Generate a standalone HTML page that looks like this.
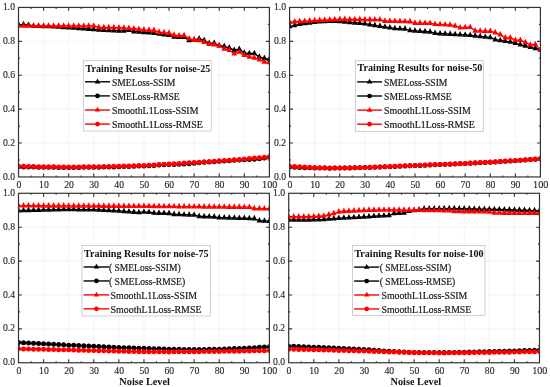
<!DOCTYPE html>
<html><head><meta charset="utf-8"><style>
html,body{margin:0;padding:0;background:#fff;}
svg{display:block;filter:blur(0.3px);}
text{font-family:'Liberation Serif', 'DejaVu Serif', serif;fill:#1e1e1e;}
.tk{font-size:9.7px;fill:#2a2a2a;stroke:#2a2a2a;stroke-width:0.15px;}
.tt{font-size:10px;font-weight:bold;fill:#111;}
.lg{font-size:10px;fill:#1a1a1a;stroke:#1a1a1a;stroke-width:0.2px;}
.xl{font-size:10.8px;font-weight:bold;fill:#111;}
</style></head><body>
<svg width="550" height="387" viewBox="0 0 550 387">
<rect width="550" height="387" fill="#fff"/>
<path d="M43.59 7.45V176.95M68.68 7.45V176.95M93.77 7.45V176.95M118.86 7.45V176.95M143.95 7.45V176.95M169.04 7.45V176.95M194.13 7.45V176.95M219.22 7.45V176.95M244.31 7.45V176.95M18.50 143.05H269.40M18.50 109.15H269.40M18.50 75.25H269.40M18.50 41.35H269.40" stroke="#ededed" stroke-width="0.6" fill="none"/>
<clipPath id="cTL"><rect x="18.5" y="7.45" width="250.90" height="169.50"/></clipPath>
<g clip-path="url(#cTL)">
<path d="M18.50 24.57L23.52 24.57L28.54 24.91L33.55 25.93L38.57 26.09L43.59 26.26L48.61 26.49L53.63 26.72L58.64 26.94L63.66 27.28L68.68 27.62L73.70 27.96L78.72 28.30L83.73 28.64L88.75 29.02L93.77 29.40L98.79 29.78L103.81 30.16L108.82 30.39L113.84 30.62L118.86 30.84L123.88 30.84L128.90 30.16L133.91 31.52L138.93 31.90L143.95 32.28L148.97 32.66L153.99 33.04L159.00 33.78L164.02 34.51L169.04 35.25L174.06 36.94L179.08 37.03L184.09 37.11L189.11 40.33L194.13 39.82L199.15 38.64L204.17 40.33L209.18 43.21L214.20 43.04L219.22 45.76L224.24 46.27L229.26 47.79L234.27 50.16L239.29 49.15L244.31 52.88L249.33 53.38L254.35 53.38L259.36 56.94L264.38 58.30L269.40 59.15" stroke="#000000" stroke-width="1.3" fill="none" stroke-linejoin="round"/>
<path d="M18.50 20.84L21.30 26.44L15.70 26.44ZM23.52 20.84L26.32 26.44L20.72 26.44ZM28.54 21.18L31.34 26.78L25.74 26.78ZM33.55 22.19L36.35 27.79L30.75 27.79ZM38.57 22.36L41.37 27.96L35.77 27.96ZM43.59 22.53L46.39 28.13L40.79 28.13ZM48.61 22.76L51.41 28.36L45.81 28.36ZM53.63 22.98L56.43 28.58L50.83 28.58ZM58.64 23.21L61.44 28.81L55.84 28.81ZM63.66 23.55L66.46 29.15L60.86 29.15ZM68.68 23.89L71.48 29.49L65.88 29.49ZM73.70 24.23L76.50 29.83L70.90 29.83ZM78.72 24.57L81.52 30.17L75.92 30.17ZM83.73 24.90L86.53 30.50L80.93 30.50ZM88.75 25.29L91.55 30.89L85.95 30.89ZM93.77 25.67L96.57 31.27L90.97 31.27ZM98.79 26.05L101.59 31.65L95.99 31.65ZM103.81 26.43L106.61 32.03L101.01 32.03ZM108.82 26.66L111.62 32.26L106.02 32.26ZM113.84 26.88L116.64 32.48L111.04 32.48ZM118.86 27.11L121.66 32.71L116.06 32.71ZM123.88 27.11L126.68 32.71L121.08 32.71ZM128.90 26.43L131.70 32.03L126.10 32.03ZM133.91 27.79L136.71 33.39L131.11 33.39ZM138.93 28.17L141.73 33.77L136.13 33.77ZM143.95 28.55L146.75 34.15L141.15 34.15ZM148.97 28.93L151.77 34.53L146.17 34.53ZM153.99 29.31L156.79 34.91L151.19 34.91ZM159.00 30.05L161.80 35.65L156.20 35.65ZM164.02 30.78L166.82 36.38L161.22 36.38ZM169.04 31.51L171.84 37.11L166.24 37.11ZM174.06 33.21L176.86 38.81L171.26 38.81ZM179.08 33.29L181.88 38.89L176.28 38.89ZM184.09 33.38L186.89 38.98L181.29 38.98ZM189.11 36.60L191.91 42.20L186.31 42.20ZM194.13 36.09L196.93 41.69L191.33 41.69ZM199.15 34.90L201.95 40.50L196.35 40.50ZM204.17 36.60L206.97 42.20L201.37 42.20ZM209.18 39.48L211.98 45.08L206.38 45.08ZM214.20 39.31L217.00 44.91L211.40 44.91ZM219.22 42.02L222.02 47.62L216.42 47.62ZM224.24 42.53L227.04 48.13L221.44 48.13ZM229.26 44.06L232.06 49.66L226.46 49.66ZM234.27 46.43L237.07 52.03L231.47 52.03ZM239.29 45.41L242.09 51.01L236.49 51.01ZM244.31 49.14L247.11 54.74L241.51 54.74ZM249.33 49.65L252.13 55.25L246.53 55.25ZM254.35 49.65L257.15 55.25L251.55 55.25ZM259.36 53.21L262.16 58.81L256.56 58.81ZM264.38 54.57L267.18 60.17L261.58 60.17ZM269.40 55.41L272.20 61.01L266.60 61.01Z" fill="#000000"/>
<path d="M18.50 166.78L23.52 166.88L28.54 166.98L33.55 167.09L38.57 167.19L43.59 167.29L48.61 167.32L53.63 167.36L58.64 167.39L63.66 167.42L68.68 167.46L73.70 167.42L78.72 167.39L83.73 167.36L88.75 167.32L93.77 167.29L98.79 167.19L103.81 167.09L108.82 166.98L113.84 166.88L118.86 166.78L123.88 166.61L128.90 166.44L133.91 166.27L138.93 166.10L143.95 165.93L148.97 165.66L153.99 165.39L159.00 165.12L164.02 164.85L169.04 164.58L174.06 164.41L179.08 164.24L184.09 164.07L189.11 163.73L194.13 163.28L199.15 162.82L204.17 162.37L209.18 162.03L214.20 161.69L219.22 161.36L224.24 161.02L229.26 160.68L234.27 160.34L239.29 160.08L244.31 159.83L249.33 159.58L254.35 159.32L259.36 158.64L264.38 157.97L269.40 157.29" stroke="#000000" stroke-width="1.3" fill="none" stroke-linejoin="round"/>
<circle cx="18.50" cy="166.78" r="2.5" fill="#000000"/>
<circle cx="23.52" cy="166.88" r="2.5" fill="#000000"/>
<circle cx="28.54" cy="166.98" r="2.5" fill="#000000"/>
<circle cx="33.55" cy="167.09" r="2.5" fill="#000000"/>
<circle cx="38.57" cy="167.19" r="2.5" fill="#000000"/>
<circle cx="43.59" cy="167.29" r="2.5" fill="#000000"/>
<circle cx="48.61" cy="167.32" r="2.5" fill="#000000"/>
<circle cx="53.63" cy="167.36" r="2.5" fill="#000000"/>
<circle cx="58.64" cy="167.39" r="2.5" fill="#000000"/>
<circle cx="63.66" cy="167.42" r="2.5" fill="#000000"/>
<circle cx="68.68" cy="167.46" r="2.5" fill="#000000"/>
<circle cx="73.70" cy="167.42" r="2.5" fill="#000000"/>
<circle cx="78.72" cy="167.39" r="2.5" fill="#000000"/>
<circle cx="83.73" cy="167.36" r="2.5" fill="#000000"/>
<circle cx="88.75" cy="167.32" r="2.5" fill="#000000"/>
<circle cx="93.77" cy="167.29" r="2.5" fill="#000000"/>
<circle cx="98.79" cy="167.19" r="2.5" fill="#000000"/>
<circle cx="103.81" cy="167.09" r="2.5" fill="#000000"/>
<circle cx="108.82" cy="166.98" r="2.5" fill="#000000"/>
<circle cx="113.84" cy="166.88" r="2.5" fill="#000000"/>
<circle cx="118.86" cy="166.78" r="2.5" fill="#000000"/>
<circle cx="123.88" cy="166.61" r="2.5" fill="#000000"/>
<circle cx="128.90" cy="166.44" r="2.5" fill="#000000"/>
<circle cx="133.91" cy="166.27" r="2.5" fill="#000000"/>
<circle cx="138.93" cy="166.10" r="2.5" fill="#000000"/>
<circle cx="143.95" cy="165.93" r="2.5" fill="#000000"/>
<circle cx="148.97" cy="165.66" r="2.5" fill="#000000"/>
<circle cx="153.99" cy="165.39" r="2.5" fill="#000000"/>
<circle cx="159.00" cy="165.12" r="2.5" fill="#000000"/>
<circle cx="164.02" cy="164.85" r="2.5" fill="#000000"/>
<circle cx="169.04" cy="164.58" r="2.5" fill="#000000"/>
<circle cx="174.06" cy="164.41" r="2.5" fill="#000000"/>
<circle cx="179.08" cy="164.24" r="2.5" fill="#000000"/>
<circle cx="184.09" cy="164.07" r="2.5" fill="#000000"/>
<circle cx="189.11" cy="163.73" r="2.5" fill="#000000"/>
<circle cx="194.13" cy="163.28" r="2.5" fill="#000000"/>
<circle cx="199.15" cy="162.82" r="2.5" fill="#000000"/>
<circle cx="204.17" cy="162.37" r="2.5" fill="#000000"/>
<circle cx="209.18" cy="162.03" r="2.5" fill="#000000"/>
<circle cx="214.20" cy="161.69" r="2.5" fill="#000000"/>
<circle cx="219.22" cy="161.36" r="2.5" fill="#000000"/>
<circle cx="224.24" cy="161.02" r="2.5" fill="#000000"/>
<circle cx="229.26" cy="160.68" r="2.5" fill="#000000"/>
<circle cx="234.27" cy="160.34" r="2.5" fill="#000000"/>
<circle cx="239.29" cy="160.08" r="2.5" fill="#000000"/>
<circle cx="244.31" cy="159.83" r="2.5" fill="#000000"/>
<circle cx="249.33" cy="159.58" r="2.5" fill="#000000"/>
<circle cx="254.35" cy="159.32" r="2.5" fill="#000000"/>
<circle cx="259.36" cy="158.64" r="2.5" fill="#000000"/>
<circle cx="264.38" cy="157.97" r="2.5" fill="#000000"/>
<circle cx="269.40" cy="157.29" r="2.5" fill="#000000"/>
<path d="M18.50 25.93L23.52 25.93L28.54 25.93L33.55 25.93L38.57 25.93L43.59 25.93L48.61 25.93L53.63 25.93L58.64 25.93L63.66 25.93L68.68 25.93L73.70 25.93L78.72 25.93L83.73 25.93L88.75 25.93L93.77 25.93L98.79 27.28L103.81 27.37L108.82 27.45L113.84 27.54L118.86 27.62L123.88 27.96L128.90 28.30L133.91 28.64L138.93 29.23L143.95 29.82L148.97 30.08L153.99 30.33L159.00 32.03L164.02 32.54L169.04 33.04L174.06 35.08L179.08 35.76L184.09 35.42L189.11 38.64L194.13 39.82L199.15 40.33L204.17 42.03L209.18 44.23L214.20 44.74L219.22 45.76L224.24 48.98L229.26 50.16L234.27 53.72L239.29 51.86L244.31 55.08L249.33 56.94L254.35 57.79L259.36 59.66L264.38 61.86L269.40 62.37" stroke="#ff0000" stroke-width="1.3" fill="none" stroke-linejoin="round"/>
<path d="M18.50 22.19L21.30 27.79L15.70 27.79ZM23.52 22.19L26.32 27.79L20.72 27.79ZM28.54 22.19L31.34 27.79L25.74 27.79ZM33.55 22.19L36.35 27.79L30.75 27.79ZM38.57 22.19L41.37 27.79L35.77 27.79ZM43.59 22.19L46.39 27.79L40.79 27.79ZM48.61 22.19L51.41 27.79L45.81 27.79ZM53.63 22.19L56.43 27.79L50.83 27.79ZM58.64 22.19L61.44 27.79L55.84 27.79ZM63.66 22.19L66.46 27.79L60.86 27.79ZM68.68 22.19L71.48 27.79L65.88 27.79ZM73.70 22.19L76.50 27.79L70.90 27.79ZM78.72 22.19L81.52 27.79L75.92 27.79ZM83.73 22.19L86.53 27.79L80.93 27.79ZM88.75 22.19L91.55 27.79L85.95 27.79ZM93.77 22.19L96.57 27.79L90.97 27.79ZM98.79 23.55L101.59 29.15L95.99 29.15ZM103.81 23.63L106.61 29.23L101.01 29.23ZM108.82 23.72L111.62 29.32L106.02 29.32ZM113.84 23.80L116.64 29.40L111.04 29.40ZM118.86 23.89L121.66 29.49L116.06 29.49ZM123.88 24.23L126.68 29.83L121.08 29.83ZM128.90 24.57L131.70 30.17L126.10 30.17ZM133.91 24.90L136.71 30.50L131.11 30.50ZM138.93 25.50L141.73 31.10L136.13 31.10ZM143.95 26.09L146.75 31.69L141.15 31.69ZM148.97 26.34L151.77 31.94L146.17 31.94ZM153.99 26.60L156.79 32.20L151.19 32.20ZM159.00 28.29L161.80 33.89L156.20 33.89ZM164.02 28.80L166.82 34.40L161.22 34.40ZM169.04 29.31L171.84 34.91L166.24 34.91ZM174.06 31.35L176.86 36.95L171.26 36.95ZM179.08 32.02L181.88 37.62L176.28 37.62ZM184.09 31.68L186.89 37.28L181.29 37.28ZM189.11 34.90L191.91 40.50L186.31 40.50ZM194.13 36.09L196.93 41.69L191.33 41.69ZM199.15 36.60L201.95 42.20L196.35 42.20ZM204.17 38.29L206.97 43.89L201.37 43.89ZM209.18 40.50L211.98 46.10L206.38 46.10ZM214.20 41.01L217.00 46.61L211.40 46.61ZM219.22 42.02L222.02 47.62L216.42 47.62ZM224.24 45.24L227.04 50.84L221.44 50.84ZM229.26 46.43L232.06 52.03L226.46 52.03ZM234.27 49.99L237.07 55.59L231.47 55.59ZM239.29 48.13L242.09 53.73L236.49 53.73ZM244.31 51.35L247.11 56.95L241.51 56.95ZM249.33 53.21L252.13 58.81L246.53 58.81ZM254.35 54.06L257.15 59.66L251.55 59.66ZM259.36 55.92L262.16 61.52L256.56 61.52ZM264.38 58.13L267.18 63.73L261.58 63.73ZM269.40 58.63L272.20 64.23L266.60 64.23Z" fill="#ff0000"/>
<path d="M18.50 166.27L23.52 166.37L28.54 166.47L33.55 166.58L38.57 166.68L43.59 166.78L48.61 166.81L53.63 166.85L58.64 166.88L63.66 166.92L68.68 166.95L73.70 166.92L78.72 166.88L83.73 166.85L88.75 166.81L93.77 166.78L98.79 166.68L103.81 166.58L108.82 166.47L113.84 166.37L118.86 166.27L123.88 166.10L128.90 165.93L133.91 165.76L138.93 165.59L143.95 165.42L148.97 165.15L153.99 164.88L159.00 164.61L164.02 164.34L169.04 164.07L174.06 163.75L179.08 163.44L184.09 163.12L189.11 162.81L194.13 162.49L199.15 162.18L204.17 161.86L209.18 161.53L214.20 161.19L219.22 160.85L224.24 160.51L229.26 160.17L234.27 159.83L239.29 159.39L244.31 158.96L249.33 158.52L254.35 158.09L259.36 157.65L264.38 157.22L269.40 156.78" stroke="#ff0000" stroke-width="1.3" fill="none" stroke-linejoin="round"/>
<circle cx="18.50" cy="166.27" r="2.5" fill="#ff0000"/>
<circle cx="23.52" cy="166.37" r="2.5" fill="#ff0000"/>
<circle cx="28.54" cy="166.47" r="2.5" fill="#ff0000"/>
<circle cx="33.55" cy="166.58" r="2.5" fill="#ff0000"/>
<circle cx="38.57" cy="166.68" r="2.5" fill="#ff0000"/>
<circle cx="43.59" cy="166.78" r="2.5" fill="#ff0000"/>
<circle cx="48.61" cy="166.81" r="2.5" fill="#ff0000"/>
<circle cx="53.63" cy="166.85" r="2.5" fill="#ff0000"/>
<circle cx="58.64" cy="166.88" r="2.5" fill="#ff0000"/>
<circle cx="63.66" cy="166.92" r="2.5" fill="#ff0000"/>
<circle cx="68.68" cy="166.95" r="2.5" fill="#ff0000"/>
<circle cx="73.70" cy="166.92" r="2.5" fill="#ff0000"/>
<circle cx="78.72" cy="166.88" r="2.5" fill="#ff0000"/>
<circle cx="83.73" cy="166.85" r="2.5" fill="#ff0000"/>
<circle cx="88.75" cy="166.81" r="2.5" fill="#ff0000"/>
<circle cx="93.77" cy="166.78" r="2.5" fill="#ff0000"/>
<circle cx="98.79" cy="166.68" r="2.5" fill="#ff0000"/>
<circle cx="103.81" cy="166.58" r="2.5" fill="#ff0000"/>
<circle cx="108.82" cy="166.47" r="2.5" fill="#ff0000"/>
<circle cx="113.84" cy="166.37" r="2.5" fill="#ff0000"/>
<circle cx="118.86" cy="166.27" r="2.5" fill="#ff0000"/>
<circle cx="123.88" cy="166.10" r="2.5" fill="#ff0000"/>
<circle cx="128.90" cy="165.93" r="2.5" fill="#ff0000"/>
<circle cx="133.91" cy="165.76" r="2.5" fill="#ff0000"/>
<circle cx="138.93" cy="165.59" r="2.5" fill="#ff0000"/>
<circle cx="143.95" cy="165.42" r="2.5" fill="#ff0000"/>
<circle cx="148.97" cy="165.15" r="2.5" fill="#ff0000"/>
<circle cx="153.99" cy="164.88" r="2.5" fill="#ff0000"/>
<circle cx="159.00" cy="164.61" r="2.5" fill="#ff0000"/>
<circle cx="164.02" cy="164.34" r="2.5" fill="#ff0000"/>
<circle cx="169.04" cy="164.07" r="2.5" fill="#ff0000"/>
<circle cx="174.06" cy="163.75" r="2.5" fill="#ff0000"/>
<circle cx="179.08" cy="163.44" r="2.5" fill="#ff0000"/>
<circle cx="184.09" cy="163.12" r="2.5" fill="#ff0000"/>
<circle cx="189.11" cy="162.81" r="2.5" fill="#ff0000"/>
<circle cx="194.13" cy="162.49" r="2.5" fill="#ff0000"/>
<circle cx="199.15" cy="162.18" r="2.5" fill="#ff0000"/>
<circle cx="204.17" cy="161.86" r="2.5" fill="#ff0000"/>
<circle cx="209.18" cy="161.53" r="2.5" fill="#ff0000"/>
<circle cx="214.20" cy="161.19" r="2.5" fill="#ff0000"/>
<circle cx="219.22" cy="160.85" r="2.5" fill="#ff0000"/>
<circle cx="224.24" cy="160.51" r="2.5" fill="#ff0000"/>
<circle cx="229.26" cy="160.17" r="2.5" fill="#ff0000"/>
<circle cx="234.27" cy="159.83" r="2.5" fill="#ff0000"/>
<circle cx="239.29" cy="159.39" r="2.5" fill="#ff0000"/>
<circle cx="244.31" cy="158.96" r="2.5" fill="#ff0000"/>
<circle cx="249.33" cy="158.52" r="2.5" fill="#ff0000"/>
<circle cx="254.35" cy="158.09" r="2.5" fill="#ff0000"/>
<circle cx="259.36" cy="157.65" r="2.5" fill="#ff0000"/>
<circle cx="264.38" cy="157.22" r="2.5" fill="#ff0000"/>
<circle cx="269.40" cy="156.78" r="2.5" fill="#ff0000"/>
</g>
<rect x="18.5" y="7.45" width="250.90" height="169.50" fill="none" stroke="#333333" stroke-width="1.2"/>
<path d="M31.05 176.95v-1.5M31.05 7.45v1.5M43.59 176.95v-3.4M43.59 7.45v3.4M56.13 176.95v-1.5M56.13 7.45v1.5M68.68 176.95v-3.4M68.68 7.45v3.4M81.22 176.95v-1.5M81.22 7.45v1.5M93.77 176.95v-3.4M93.77 7.45v3.4M106.31 176.95v-1.5M106.31 7.45v1.5M118.86 176.95v-3.4M118.86 7.45v3.4M131.40 176.95v-1.5M131.40 7.45v1.5M143.95 176.95v-3.4M143.95 7.45v3.4M156.49 176.95v-1.5M156.49 7.45v1.5M169.04 176.95v-3.4M169.04 7.45v3.4M181.58 176.95v-1.5M181.58 7.45v1.5M194.13 176.95v-3.4M194.13 7.45v3.4M206.68 176.95v-1.5M206.68 7.45v1.5M219.22 176.95v-3.4M219.22 7.45v3.4M231.76 176.95v-1.5M231.76 7.45v1.5M244.31 176.95v-3.4M244.31 7.45v3.4M256.85 176.95v-1.5M256.85 7.45v1.5M18.50 160.00h1.5M269.40 160.00h-1.5M18.50 143.05h3.4M269.40 143.05h-3.4M18.50 126.10h1.5M269.40 126.10h-1.5M18.50 109.15h3.4M269.40 109.15h-3.4M18.50 92.20h1.5M269.40 92.20h-1.5M18.50 75.25h3.4M269.40 75.25h-3.4M18.50 58.30h1.5M269.40 58.30h-1.5M18.50 41.35h3.4M269.40 41.35h-3.4M18.50 24.40h1.5M269.40 24.40h-1.5" stroke="#333333" stroke-width="1.1" fill="none"/>
<text x="18.80" y="187.95" text-anchor="middle" class="tk">0</text>
<text x="43.89" y="187.95" text-anchor="middle" class="tk">10</text>
<text x="68.98" y="187.95" text-anchor="middle" class="tk">20</text>
<text x="94.07" y="187.95" text-anchor="middle" class="tk">30</text>
<text x="119.16" y="187.95" text-anchor="middle" class="tk">40</text>
<text x="144.25" y="187.95" text-anchor="middle" class="tk">50</text>
<text x="169.34" y="187.95" text-anchor="middle" class="tk">60</text>
<text x="194.43" y="187.95" text-anchor="middle" class="tk">70</text>
<text x="219.52" y="187.95" text-anchor="middle" class="tk">80</text>
<text x="244.61" y="187.95" text-anchor="middle" class="tk">90</text>
<text x="269.70" y="187.95" text-anchor="middle" class="tk" textLength="15.2" lengthAdjust="spacingAndGlyphs">100</text>
<text x="15.00" y="179.55" text-anchor="end" class="tk">0.0</text>
<text x="15.00" y="145.65" text-anchor="end" class="tk">0.2</text>
<text x="15.00" y="111.75" text-anchor="end" class="tk">0.4</text>
<text x="15.00" y="77.85" text-anchor="end" class="tk">0.6</text>
<text x="15.00" y="43.95" text-anchor="end" class="tk">0.8</text>
<text x="15.00" y="10.05" text-anchor="end" class="tk">1.0</text>
<rect x="83.45" y="60.5" width="127.75" height="70.5" fill="#fff" stroke="#c4c4c4" stroke-width="0.8"/>
<text x="85.45" y="71.50" class="tt" textLength="124.9" lengthAdjust="spacingAndGlyphs">Training Results for noise-25</text>
<path d="M85.00 81.80H110.00" stroke="#000000" stroke-width="1.4"/>
<path d="M97.50 78.60L100.30 83.40L94.70 83.40Z" fill="#000000"/>
<text x="112.00" y="86.00" class="lg" textLength="63.4" lengthAdjust="spacingAndGlyphs">SMELoss-SSIM</text>
<path d="M85.00 95.90H110.00" stroke="#000000" stroke-width="1.4"/>
<circle cx="97.50" cy="95.90" r="2.35" fill="#000000"/>
<text x="112.00" y="100.10" class="lg" textLength="67.7" lengthAdjust="spacingAndGlyphs">SMELoss-RMSE</text>
<path d="M85.00 110.00H110.00" stroke="#ff0000" stroke-width="1.4"/>
<path d="M97.50 106.80L100.30 111.60L94.70 111.60Z" fill="#ff0000"/>
<text x="112.00" y="114.20" class="lg" textLength="86.4" lengthAdjust="spacingAndGlyphs">SmoothL1Loss-SSIM</text>
<path d="M85.00 124.10H110.00" stroke="#ff0000" stroke-width="1.4"/>
<circle cx="97.50" cy="124.10" r="2.35" fill="#ff0000"/>
<text x="112.00" y="128.30" class="lg" textLength="90.7" lengthAdjust="spacingAndGlyphs">SmoothL1Loss-RMSE</text>
<path d="M314.68 7.45V176.95M339.76 7.45V176.95M364.84 7.45V176.95M389.92 7.45V176.95M415.00 7.45V176.95M440.08 7.45V176.95M465.16 7.45V176.95M490.24 7.45V176.95M515.32 7.45V176.95M289.60 143.05H540.40M289.60 109.15H540.40M289.60 75.25H540.40M289.60 41.35H540.40" stroke="#ededed" stroke-width="0.6" fill="none"/>
<clipPath id="cTR"><rect x="289.6" y="7.45" width="250.80" height="169.50"/></clipPath>
<g clip-path="url(#cTR)">
<path d="M289.60 26.43L294.62 25.33L299.63 24.23L304.65 23.50L309.66 22.76L314.68 22.03L319.70 21.69L324.71 21.35L329.73 21.01L334.74 21.18L339.76 21.35L344.78 21.82L349.79 22.30L354.81 22.77L359.82 23.25L364.84 23.72L369.86 24.51L374.87 25.30L379.89 26.09L384.90 26.89L389.92 27.68L394.94 28.47L399.95 28.64L404.97 28.81L409.98 30.50L415.00 30.84L420.02 31.18L425.03 31.52L430.05 31.86L435.06 33.21L440.08 33.51L445.10 33.81L450.11 34.10L455.13 34.40L460.14 34.68L465.16 34.97L470.18 35.25L475.19 35.80L480.21 36.35L485.22 36.90L490.24 37.45L495.26 39.65L500.27 40.39L505.29 41.12L510.30 41.86L515.32 43.21L520.34 44.51L525.35 45.81L530.37 47.11L535.38 48.30L540.40 49.49" stroke="#000000" stroke-width="1.3" fill="none" stroke-linejoin="round"/>
<path d="M289.60 22.70L292.40 28.30L286.80 28.30ZM294.62 21.60L297.42 27.20L291.82 27.20ZM299.63 20.50L302.43 26.10L296.83 26.10ZM304.65 19.76L307.45 25.36L301.85 25.36ZM309.66 19.03L312.46 24.63L306.86 24.63ZM314.68 18.29L317.48 23.89L311.88 23.89ZM319.70 17.95L322.50 23.55L316.90 23.55ZM324.71 17.62L327.51 23.22L321.91 23.22ZM329.73 17.28L332.53 22.88L326.93 22.88ZM334.74 17.45L337.54 23.05L331.94 23.05ZM339.76 17.62L342.56 23.22L336.96 23.22ZM344.78 18.09L347.58 23.69L341.98 23.69ZM349.79 18.56L352.59 24.16L346.99 24.16ZM354.81 19.04L357.61 24.64L352.01 24.64ZM359.82 19.51L362.62 25.11L357.02 25.11ZM364.84 19.99L367.64 25.59L362.04 25.59ZM369.86 20.78L372.66 26.38L367.06 26.38ZM374.87 21.57L377.67 27.17L372.07 27.17ZM379.89 22.36L382.69 27.96L377.09 27.96ZM384.90 23.15L387.70 28.75L382.10 28.75ZM389.92 23.94L392.72 29.54L387.12 29.54ZM394.94 24.73L397.74 30.33L392.14 30.33ZM399.95 24.90L402.75 30.50L397.15 30.50ZM404.97 25.07L407.77 30.67L402.17 30.67ZM409.98 26.77L412.78 32.37L407.18 32.37ZM415.00 27.11L417.80 32.71L412.20 32.71ZM420.02 27.45L422.82 33.05L417.22 33.05ZM425.03 27.79L427.83 33.39L422.23 33.39ZM430.05 28.12L432.85 33.72L427.25 33.72ZM435.06 29.48L437.86 35.08L432.26 35.08ZM440.08 29.78L442.88 35.38L437.28 35.38ZM445.10 30.07L447.90 35.67L442.30 35.67ZM450.11 30.37L452.91 35.97L447.31 35.97ZM455.13 30.67L457.93 36.27L452.33 36.27ZM460.14 30.95L462.94 36.55L457.34 36.55ZM465.16 31.23L467.96 36.83L462.36 36.83ZM470.18 31.51L472.98 37.11L467.38 37.11ZM475.19 32.07L477.99 37.67L472.39 37.67ZM480.21 32.62L483.01 38.22L477.41 38.22ZM485.22 33.17L488.02 38.77L482.42 38.77ZM490.24 33.72L493.04 39.32L487.44 39.32ZM495.26 35.92L498.06 41.52L492.46 41.52ZM500.27 36.66L503.07 42.26L497.47 42.26ZM505.29 37.39L508.09 42.99L502.49 42.99ZM510.30 38.13L513.10 43.73L507.50 43.73ZM515.32 39.48L518.12 45.08L512.52 45.08ZM520.34 40.78L523.14 46.38L517.54 46.38ZM525.35 42.08L528.15 47.68L522.55 47.68ZM530.37 43.38L533.17 48.98L527.57 48.98ZM535.38 44.57L538.18 50.17L532.58 50.17ZM540.40 45.75L543.20 51.35L537.60 51.35Z" fill="#000000"/>
<path d="M289.60 167.12L294.62 167.29L299.63 167.46L304.65 167.63L309.66 167.80L314.68 167.88L319.70 167.97L324.71 168.05L329.73 168.14L334.74 168.09L339.76 168.05L344.78 168.01L349.79 167.97L354.81 167.83L359.82 167.70L364.84 167.56L369.86 167.42L374.87 167.29L379.89 167.08L384.90 166.86L389.92 166.65L394.94 166.44L399.95 166.23L404.97 166.02L409.98 165.81L415.00 165.59L420.02 165.39L425.03 165.19L430.05 164.98L435.06 164.78L440.08 164.58L445.10 164.37L450.11 164.17L455.13 163.97L460.14 163.76L465.16 163.56L470.18 163.29L475.19 163.02L480.21 162.75L485.22 162.47L490.24 162.20L495.26 161.90L500.27 161.59L505.29 161.29L510.30 160.98L515.32 160.68L520.34 160.31L525.35 159.93L530.37 159.56L535.38 159.19L540.40 158.81" stroke="#000000" stroke-width="1.3" fill="none" stroke-linejoin="round"/>
<circle cx="289.60" cy="167.12" r="2.5" fill="#000000"/>
<circle cx="294.62" cy="167.29" r="2.5" fill="#000000"/>
<circle cx="299.63" cy="167.46" r="2.5" fill="#000000"/>
<circle cx="304.65" cy="167.63" r="2.5" fill="#000000"/>
<circle cx="309.66" cy="167.80" r="2.5" fill="#000000"/>
<circle cx="314.68" cy="167.88" r="2.5" fill="#000000"/>
<circle cx="319.70" cy="167.97" r="2.5" fill="#000000"/>
<circle cx="324.71" cy="168.05" r="2.5" fill="#000000"/>
<circle cx="329.73" cy="168.14" r="2.5" fill="#000000"/>
<circle cx="334.74" cy="168.09" r="2.5" fill="#000000"/>
<circle cx="339.76" cy="168.05" r="2.5" fill="#000000"/>
<circle cx="344.78" cy="168.01" r="2.5" fill="#000000"/>
<circle cx="349.79" cy="167.97" r="2.5" fill="#000000"/>
<circle cx="354.81" cy="167.83" r="2.5" fill="#000000"/>
<circle cx="359.82" cy="167.70" r="2.5" fill="#000000"/>
<circle cx="364.84" cy="167.56" r="2.5" fill="#000000"/>
<circle cx="369.86" cy="167.42" r="2.5" fill="#000000"/>
<circle cx="374.87" cy="167.29" r="2.5" fill="#000000"/>
<circle cx="379.89" cy="167.08" r="2.5" fill="#000000"/>
<circle cx="384.90" cy="166.86" r="2.5" fill="#000000"/>
<circle cx="389.92" cy="166.65" r="2.5" fill="#000000"/>
<circle cx="394.94" cy="166.44" r="2.5" fill="#000000"/>
<circle cx="399.95" cy="166.23" r="2.5" fill="#000000"/>
<circle cx="404.97" cy="166.02" r="2.5" fill="#000000"/>
<circle cx="409.98" cy="165.81" r="2.5" fill="#000000"/>
<circle cx="415.00" cy="165.59" r="2.5" fill="#000000"/>
<circle cx="420.02" cy="165.39" r="2.5" fill="#000000"/>
<circle cx="425.03" cy="165.19" r="2.5" fill="#000000"/>
<circle cx="430.05" cy="164.98" r="2.5" fill="#000000"/>
<circle cx="435.06" cy="164.78" r="2.5" fill="#000000"/>
<circle cx="440.08" cy="164.58" r="2.5" fill="#000000"/>
<circle cx="445.10" cy="164.37" r="2.5" fill="#000000"/>
<circle cx="450.11" cy="164.17" r="2.5" fill="#000000"/>
<circle cx="455.13" cy="163.97" r="2.5" fill="#000000"/>
<circle cx="460.14" cy="163.76" r="2.5" fill="#000000"/>
<circle cx="465.16" cy="163.56" r="2.5" fill="#000000"/>
<circle cx="470.18" cy="163.29" r="2.5" fill="#000000"/>
<circle cx="475.19" cy="163.02" r="2.5" fill="#000000"/>
<circle cx="480.21" cy="162.75" r="2.5" fill="#000000"/>
<circle cx="485.22" cy="162.47" r="2.5" fill="#000000"/>
<circle cx="490.24" cy="162.20" r="2.5" fill="#000000"/>
<circle cx="495.26" cy="161.90" r="2.5" fill="#000000"/>
<circle cx="500.27" cy="161.59" r="2.5" fill="#000000"/>
<circle cx="505.29" cy="161.29" r="2.5" fill="#000000"/>
<circle cx="510.30" cy="160.98" r="2.5" fill="#000000"/>
<circle cx="515.32" cy="160.68" r="2.5" fill="#000000"/>
<circle cx="520.34" cy="160.31" r="2.5" fill="#000000"/>
<circle cx="525.35" cy="159.93" r="2.5" fill="#000000"/>
<circle cx="530.37" cy="159.56" r="2.5" fill="#000000"/>
<circle cx="535.38" cy="159.19" r="2.5" fill="#000000"/>
<circle cx="540.40" cy="158.81" r="2.5" fill="#000000"/>
<path d="M289.60 22.03L294.62 21.72L299.63 21.42L304.65 21.11L309.66 20.81L314.68 20.50L319.70 20.26L324.71 20.03L329.73 19.79L334.74 19.55L339.76 19.31L344.78 19.36L349.79 19.40L354.81 19.44L359.82 19.48L364.84 19.53L369.86 19.57L374.87 19.61L379.89 19.65L384.90 21.01L389.92 21.11L394.94 21.21L399.95 21.32L404.97 21.42L409.98 21.52L415.00 23.04L420.02 23.10L425.03 23.16L430.05 23.21L435.06 24.23L440.08 24.46L445.10 24.68L450.11 24.91L455.13 25.93L460.14 27.62L465.16 27.37L470.18 27.11L475.19 30.84L480.21 30.95L485.22 31.07L490.24 31.18L495.26 32.54L500.27 34.57L505.29 37.62L510.30 37.62L515.32 40.16L520.34 40.16L525.35 42.37L530.37 44.91L535.38 44.40L540.40 50.16" stroke="#ff0000" stroke-width="1.3" fill="none" stroke-linejoin="round"/>
<path d="M289.60 18.29L292.40 23.89L286.80 23.89ZM294.62 17.99L297.42 23.59L291.82 23.59ZM299.63 17.68L302.43 23.28L296.83 23.28ZM304.65 17.38L307.45 22.98L301.85 22.98ZM309.66 17.07L312.46 22.67L306.86 22.67ZM314.68 16.77L317.48 22.37L311.88 22.37ZM319.70 16.53L322.50 22.13L316.90 22.13ZM324.71 16.29L327.51 21.89L321.91 21.89ZM329.73 16.06L332.53 21.66L326.93 21.66ZM334.74 15.82L337.54 21.42L331.94 21.42ZM339.76 15.58L342.56 21.18L336.96 21.18ZM344.78 15.62L347.58 21.22L341.98 21.22ZM349.79 15.67L352.59 21.27L346.99 21.27ZM354.81 15.71L357.61 21.31L352.01 21.31ZM359.82 15.75L362.62 21.35L357.02 21.35ZM364.84 15.79L367.64 21.39L362.04 21.39ZM369.86 15.84L372.66 21.44L367.06 21.44ZM374.87 15.88L377.67 21.48L372.07 21.48ZM379.89 15.92L382.69 21.52L377.09 21.52ZM384.90 17.28L387.70 22.88L382.10 22.88ZM389.92 17.38L392.72 22.98L387.12 22.98ZM394.94 17.48L397.74 23.08L392.14 23.08ZM399.95 17.58L402.75 23.18L397.15 23.18ZM404.97 17.68L407.77 23.28L402.17 23.28ZM409.98 17.79L412.78 23.39L407.18 23.39ZM415.00 19.31L417.80 24.91L412.20 24.91ZM420.02 19.37L422.82 24.97L417.22 24.97ZM425.03 19.42L427.83 25.02L422.23 25.02ZM430.05 19.48L432.85 25.08L427.25 25.08ZM435.06 20.50L437.86 26.10L432.26 26.10ZM440.08 20.72L442.88 26.32L437.28 26.32ZM445.10 20.95L447.90 26.55L442.30 26.55ZM450.11 21.18L452.91 26.78L447.31 26.78ZM455.13 22.19L457.93 27.79L452.33 27.79ZM460.14 23.89L462.94 29.49L457.34 29.49ZM465.16 23.63L467.96 29.23L462.36 29.23ZM470.18 23.38L472.98 28.98L467.38 28.98ZM475.19 27.11L477.99 32.71L472.39 32.71ZM480.21 27.22L483.01 32.82L477.41 32.82ZM485.22 27.33L488.02 32.93L482.42 32.93ZM490.24 27.45L493.04 33.05L487.44 33.05ZM495.26 28.80L498.06 34.40L492.46 34.40ZM500.27 30.84L503.07 36.44L497.47 36.44ZM505.29 33.89L508.09 39.49L502.49 39.49ZM510.30 33.89L513.10 39.49L507.50 39.49ZM515.32 36.43L518.12 42.03L512.52 42.03ZM520.34 36.43L523.14 42.03L517.54 42.03ZM525.35 38.63L528.15 44.23L522.55 44.23ZM530.37 41.18L533.17 46.78L527.57 46.78ZM535.38 40.67L538.18 46.27L532.58 46.27ZM540.40 46.43L543.20 52.03L537.60 52.03Z" fill="#ff0000"/>
<path d="M289.60 166.27L294.62 166.53L299.63 166.78L304.65 167.03L309.66 167.29L314.68 167.46L319.70 167.63L324.71 167.80L329.73 167.97L334.74 167.92L339.76 167.88L344.78 167.84L349.79 167.80L354.81 167.66L359.82 167.53L364.84 167.39L369.86 167.25L374.87 167.12L379.89 166.91L384.90 166.70L389.92 166.48L394.94 166.27L399.95 166.06L404.97 165.85L409.98 165.64L415.00 165.42L420.02 165.22L425.03 165.02L430.05 164.81L435.06 164.61L440.08 164.41L445.10 164.20L450.11 164.00L455.13 163.80L460.14 163.59L465.16 163.39L470.18 163.12L475.19 162.85L480.21 162.58L485.22 162.31L490.24 162.03L495.26 161.73L500.27 161.42L505.29 161.12L510.30 160.81L515.32 160.51L520.34 160.14L525.35 159.76L530.37 159.39L535.38 159.02L540.40 158.64" stroke="#ff0000" stroke-width="1.3" fill="none" stroke-linejoin="round"/>
<circle cx="289.60" cy="166.27" r="2.5" fill="#ff0000"/>
<circle cx="294.62" cy="166.53" r="2.5" fill="#ff0000"/>
<circle cx="299.63" cy="166.78" r="2.5" fill="#ff0000"/>
<circle cx="304.65" cy="167.03" r="2.5" fill="#ff0000"/>
<circle cx="309.66" cy="167.29" r="2.5" fill="#ff0000"/>
<circle cx="314.68" cy="167.46" r="2.5" fill="#ff0000"/>
<circle cx="319.70" cy="167.63" r="2.5" fill="#ff0000"/>
<circle cx="324.71" cy="167.80" r="2.5" fill="#ff0000"/>
<circle cx="329.73" cy="167.97" r="2.5" fill="#ff0000"/>
<circle cx="334.74" cy="167.92" r="2.5" fill="#ff0000"/>
<circle cx="339.76" cy="167.88" r="2.5" fill="#ff0000"/>
<circle cx="344.78" cy="167.84" r="2.5" fill="#ff0000"/>
<circle cx="349.79" cy="167.80" r="2.5" fill="#ff0000"/>
<circle cx="354.81" cy="167.66" r="2.5" fill="#ff0000"/>
<circle cx="359.82" cy="167.53" r="2.5" fill="#ff0000"/>
<circle cx="364.84" cy="167.39" r="2.5" fill="#ff0000"/>
<circle cx="369.86" cy="167.25" r="2.5" fill="#ff0000"/>
<circle cx="374.87" cy="167.12" r="2.5" fill="#ff0000"/>
<circle cx="379.89" cy="166.91" r="2.5" fill="#ff0000"/>
<circle cx="384.90" cy="166.70" r="2.5" fill="#ff0000"/>
<circle cx="389.92" cy="166.48" r="2.5" fill="#ff0000"/>
<circle cx="394.94" cy="166.27" r="2.5" fill="#ff0000"/>
<circle cx="399.95" cy="166.06" r="2.5" fill="#ff0000"/>
<circle cx="404.97" cy="165.85" r="2.5" fill="#ff0000"/>
<circle cx="409.98" cy="165.64" r="2.5" fill="#ff0000"/>
<circle cx="415.00" cy="165.42" r="2.5" fill="#ff0000"/>
<circle cx="420.02" cy="165.22" r="2.5" fill="#ff0000"/>
<circle cx="425.03" cy="165.02" r="2.5" fill="#ff0000"/>
<circle cx="430.05" cy="164.81" r="2.5" fill="#ff0000"/>
<circle cx="435.06" cy="164.61" r="2.5" fill="#ff0000"/>
<circle cx="440.08" cy="164.41" r="2.5" fill="#ff0000"/>
<circle cx="445.10" cy="164.20" r="2.5" fill="#ff0000"/>
<circle cx="450.11" cy="164.00" r="2.5" fill="#ff0000"/>
<circle cx="455.13" cy="163.80" r="2.5" fill="#ff0000"/>
<circle cx="460.14" cy="163.59" r="2.5" fill="#ff0000"/>
<circle cx="465.16" cy="163.39" r="2.5" fill="#ff0000"/>
<circle cx="470.18" cy="163.12" r="2.5" fill="#ff0000"/>
<circle cx="475.19" cy="162.85" r="2.5" fill="#ff0000"/>
<circle cx="480.21" cy="162.58" r="2.5" fill="#ff0000"/>
<circle cx="485.22" cy="162.31" r="2.5" fill="#ff0000"/>
<circle cx="490.24" cy="162.03" r="2.5" fill="#ff0000"/>
<circle cx="495.26" cy="161.73" r="2.5" fill="#ff0000"/>
<circle cx="500.27" cy="161.42" r="2.5" fill="#ff0000"/>
<circle cx="505.29" cy="161.12" r="2.5" fill="#ff0000"/>
<circle cx="510.30" cy="160.81" r="2.5" fill="#ff0000"/>
<circle cx="515.32" cy="160.51" r="2.5" fill="#ff0000"/>
<circle cx="520.34" cy="160.14" r="2.5" fill="#ff0000"/>
<circle cx="525.35" cy="159.76" r="2.5" fill="#ff0000"/>
<circle cx="530.37" cy="159.39" r="2.5" fill="#ff0000"/>
<circle cx="535.38" cy="159.02" r="2.5" fill="#ff0000"/>
<circle cx="540.40" cy="158.64" r="2.5" fill="#ff0000"/>
</g>
<rect x="289.6" y="7.45" width="250.80" height="169.50" fill="none" stroke="#333333" stroke-width="1.2"/>
<path d="M302.14 176.95v-1.5M302.14 7.45v1.5M314.68 176.95v-3.4M314.68 7.45v3.4M327.22 176.95v-1.5M327.22 7.45v1.5M339.76 176.95v-3.4M339.76 7.45v3.4M352.30 176.95v-1.5M352.30 7.45v1.5M364.84 176.95v-3.4M364.84 7.45v3.4M377.38 176.95v-1.5M377.38 7.45v1.5M389.92 176.95v-3.4M389.92 7.45v3.4M402.46 176.95v-1.5M402.46 7.45v1.5M415.00 176.95v-3.4M415.00 7.45v3.4M427.54 176.95v-1.5M427.54 7.45v1.5M440.08 176.95v-3.4M440.08 7.45v3.4M452.62 176.95v-1.5M452.62 7.45v1.5M465.16 176.95v-3.4M465.16 7.45v3.4M477.70 176.95v-1.5M477.70 7.45v1.5M490.24 176.95v-3.4M490.24 7.45v3.4M502.78 176.95v-1.5M502.78 7.45v1.5M515.32 176.95v-3.4M515.32 7.45v3.4M527.86 176.95v-1.5M527.86 7.45v1.5M289.60 160.00h1.5M540.40 160.00h-1.5M289.60 143.05h3.4M540.40 143.05h-3.4M289.60 126.10h1.5M540.40 126.10h-1.5M289.60 109.15h3.4M540.40 109.15h-3.4M289.60 92.20h1.5M540.40 92.20h-1.5M289.60 75.25h3.4M540.40 75.25h-3.4M289.60 58.30h1.5M540.40 58.30h-1.5M289.60 41.35h3.4M540.40 41.35h-3.4M289.60 24.40h1.5M540.40 24.40h-1.5" stroke="#333333" stroke-width="1.1" fill="none"/>
<text x="289.90" y="187.95" text-anchor="middle" class="tk">0</text>
<text x="314.98" y="187.95" text-anchor="middle" class="tk">10</text>
<text x="340.06" y="187.95" text-anchor="middle" class="tk">20</text>
<text x="365.14" y="187.95" text-anchor="middle" class="tk">30</text>
<text x="390.22" y="187.95" text-anchor="middle" class="tk">40</text>
<text x="415.30" y="187.95" text-anchor="middle" class="tk">50</text>
<text x="440.38" y="187.95" text-anchor="middle" class="tk">60</text>
<text x="465.46" y="187.95" text-anchor="middle" class="tk">70</text>
<text x="490.54" y="187.95" text-anchor="middle" class="tk">80</text>
<text x="515.62" y="187.95" text-anchor="middle" class="tk">90</text>
<text x="540.70" y="187.95" text-anchor="middle" class="tk" textLength="15.2" lengthAdjust="spacingAndGlyphs">100</text>
<text x="286.10" y="179.55" text-anchor="end" class="tk">0.0</text>
<text x="286.10" y="145.65" text-anchor="end" class="tk">0.2</text>
<text x="286.10" y="111.75" text-anchor="end" class="tk">0.4</text>
<text x="286.10" y="77.85" text-anchor="end" class="tk">0.6</text>
<text x="286.10" y="43.95" text-anchor="end" class="tk">0.8</text>
<text x="286.10" y="10.05" text-anchor="end" class="tk">1.0</text>
<rect x="355.5" y="60.6" width="127.8" height="71.0" fill="#fff" stroke="#c4c4c4" stroke-width="0.8"/>
<text x="357.50" y="71.40" class="tt" textLength="124.9" lengthAdjust="spacingAndGlyphs">Training Results for noise-50</text>
<path d="M357.20 81.90H382.00" stroke="#000000" stroke-width="1.4"/>
<path d="M369.60 78.70L372.40 83.50L366.80 83.50Z" fill="#000000"/>
<text x="384.00" y="86.10" class="lg" textLength="63.4" lengthAdjust="spacingAndGlyphs">SMELoss-SSIM</text>
<path d="M357.20 96.00H382.00" stroke="#000000" stroke-width="1.4"/>
<circle cx="369.60" cy="96.00" r="2.35" fill="#000000"/>
<text x="384.00" y="100.20" class="lg" textLength="67.7" lengthAdjust="spacingAndGlyphs">SMELoss-RMSE</text>
<path d="M357.20 110.10H382.00" stroke="#ff0000" stroke-width="1.4"/>
<path d="M369.60 106.90L372.40 111.70L366.80 111.70Z" fill="#ff0000"/>
<text x="384.00" y="114.30" class="lg" textLength="86.8" lengthAdjust="spacingAndGlyphs">SmoothL1Loss-SSIM</text>
<path d="M357.20 124.20H382.00" stroke="#ff0000" stroke-width="1.4"/>
<circle cx="369.60" cy="124.20" r="2.35" fill="#ff0000"/>
<text x="384.00" y="128.40" class="lg" textLength="90.8" lengthAdjust="spacingAndGlyphs">SmoothL1Loss-RMSE</text>
<path d="M43.59 193.30V362.75M68.68 193.30V362.75M93.77 193.30V362.75M118.86 193.30V362.75M143.95 193.30V362.75M169.04 193.30V362.75M194.13 193.30V362.75M219.22 193.30V362.75M244.31 193.30V362.75M18.50 328.86H269.40M18.50 294.97H269.40M18.50 261.08H269.40M18.50 227.19H269.40" stroke="#ededed" stroke-width="0.6" fill="none"/>
<clipPath id="cBL"><rect x="18.5" y="193.3" width="250.90" height="169.45"/></clipPath>
<g clip-path="url(#cBL)">
<path d="M18.50 210.58L23.52 210.45L28.54 210.31L33.55 210.18L38.57 210.04L43.59 209.91L48.61 209.80L53.63 209.70L58.64 209.60L63.66 209.50L68.68 209.40L73.70 209.47L78.72 209.53L83.73 209.60L88.75 209.67L93.77 209.74L98.79 209.97L103.81 210.21L108.82 210.45L113.84 210.69L118.86 210.92L123.88 211.30L128.90 211.69L133.91 212.07L138.93 212.45L143.95 211.94L148.97 212.11L153.99 212.96L159.00 213.07L164.02 213.18L169.04 213.30L174.06 214.31L179.08 214.48L184.09 214.65L189.11 214.82L194.13 214.99L199.15 216.35L204.17 216.51L209.18 216.68L214.20 216.85L219.22 217.53L224.24 217.68L229.26 217.82L234.27 217.97L239.29 218.11L244.31 218.26L249.33 218.40L254.35 218.55L259.36 220.75L264.38 220.92L269.40 221.09" stroke="#000000" stroke-width="1.3" fill="none" stroke-linejoin="round"/>
<path d="M18.50 206.85L21.30 212.45L15.70 212.45ZM23.52 206.72L26.32 212.32L20.72 212.32ZM28.54 206.58L31.34 212.18L25.74 212.18ZM33.55 206.44L36.35 212.04L30.75 212.04ZM38.57 206.31L41.37 211.91L35.77 211.91ZM43.59 206.17L46.39 211.77L40.79 211.77ZM48.61 206.07L51.41 211.67L45.81 211.67ZM53.63 205.97L56.43 211.57L50.83 211.57ZM58.64 205.87L61.44 211.47L55.84 211.47ZM63.66 205.77L66.46 211.37L60.86 211.37ZM68.68 205.66L71.48 211.26L65.88 211.26ZM73.70 205.73L76.50 211.33L70.90 211.33ZM78.72 205.80L81.52 211.40L75.92 211.40ZM83.73 205.87L86.53 211.47L80.93 211.47ZM88.75 205.94L91.55 211.54L85.95 211.54ZM93.77 206.00L96.57 211.60L90.97 211.60ZM98.79 206.24L101.59 211.84L95.99 211.84ZM103.81 206.48L106.61 212.08L101.01 212.08ZM108.82 206.72L111.62 212.32L106.02 212.32ZM113.84 206.95L116.64 212.55L111.04 212.55ZM118.86 207.19L121.66 212.79L116.06 212.79ZM123.88 207.57L126.68 213.17L121.08 213.17ZM128.90 207.95L131.70 213.55L126.10 213.55ZM133.91 208.33L136.71 213.93L131.11 213.93ZM138.93 208.71L141.73 214.31L136.13 214.31ZM143.95 208.21L146.75 213.81L141.15 213.81ZM148.97 208.38L151.77 213.98L146.17 213.98ZM153.99 209.22L156.79 214.82L151.19 214.82ZM159.00 209.34L161.80 214.94L156.20 214.94ZM164.02 209.45L166.82 215.05L161.22 215.05ZM169.04 209.56L171.84 215.16L166.24 215.16ZM174.06 210.58L176.86 216.18L171.26 216.18ZM179.08 210.75L181.88 216.35L176.28 216.35ZM184.09 210.92L186.89 216.52L181.29 216.52ZM189.11 211.09L191.91 216.69L186.31 216.69ZM194.13 211.26L196.93 216.86L191.33 216.86ZM199.15 212.61L201.95 218.21L196.35 218.21ZM204.17 212.78L206.97 218.38L201.37 218.38ZM209.18 212.95L211.98 218.55L206.38 218.55ZM214.20 213.12L217.00 218.72L211.40 218.72ZM219.22 213.80L222.02 219.40L216.42 219.40ZM224.24 213.94L227.04 219.54L221.44 219.54ZM229.26 214.09L232.06 219.69L226.46 219.69ZM234.27 214.23L237.07 219.83L231.47 219.83ZM239.29 214.38L242.09 219.98L236.49 219.98ZM244.31 214.52L247.11 220.12L241.51 220.12ZM249.33 214.67L252.13 220.27L246.53 220.27ZM254.35 214.81L257.15 220.41L251.55 220.41ZM259.36 217.02L262.16 222.62L256.56 222.62ZM264.38 217.19L267.18 222.79L261.58 222.79ZM269.40 217.36L272.20 222.96L266.60 222.96Z" fill="#000000"/>
<path d="M18.50 342.42L23.52 342.69L28.54 342.96L33.55 343.23L38.57 343.50L43.59 343.77L48.61 344.04L53.63 344.31L58.64 344.58L63.66 344.86L68.68 345.13L73.70 345.36L78.72 345.60L83.73 345.84L88.75 346.08L93.77 346.31L98.79 346.55L103.81 346.79L108.82 347.03L113.84 347.26L118.86 347.50L123.88 347.67L128.90 347.84L133.91 348.01L138.93 348.18L143.95 348.35L148.97 348.52L153.99 348.69L159.00 348.86L164.02 349.02L169.04 349.19L174.06 349.26L179.08 349.33L184.09 349.40L189.11 349.47L194.13 349.53L199.15 349.47L204.17 349.40L209.18 349.33L214.20 349.26L219.22 349.19L224.24 348.99L229.26 348.79L234.27 348.58L239.29 348.38L244.31 348.18L249.33 347.91L254.35 347.64L259.36 347.36L264.38 347.09L269.40 346.82" stroke="#000000" stroke-width="1.3" fill="none" stroke-linejoin="round"/>
<circle cx="18.50" cy="342.42" r="2.5" fill="#000000"/>
<circle cx="23.52" cy="342.69" r="2.5" fill="#000000"/>
<circle cx="28.54" cy="342.96" r="2.5" fill="#000000"/>
<circle cx="33.55" cy="343.23" r="2.5" fill="#000000"/>
<circle cx="38.57" cy="343.50" r="2.5" fill="#000000"/>
<circle cx="43.59" cy="343.77" r="2.5" fill="#000000"/>
<circle cx="48.61" cy="344.04" r="2.5" fill="#000000"/>
<circle cx="53.63" cy="344.31" r="2.5" fill="#000000"/>
<circle cx="58.64" cy="344.58" r="2.5" fill="#000000"/>
<circle cx="63.66" cy="344.86" r="2.5" fill="#000000"/>
<circle cx="68.68" cy="345.13" r="2.5" fill="#000000"/>
<circle cx="73.70" cy="345.36" r="2.5" fill="#000000"/>
<circle cx="78.72" cy="345.60" r="2.5" fill="#000000"/>
<circle cx="83.73" cy="345.84" r="2.5" fill="#000000"/>
<circle cx="88.75" cy="346.08" r="2.5" fill="#000000"/>
<circle cx="93.77" cy="346.31" r="2.5" fill="#000000"/>
<circle cx="98.79" cy="346.55" r="2.5" fill="#000000"/>
<circle cx="103.81" cy="346.79" r="2.5" fill="#000000"/>
<circle cx="108.82" cy="347.03" r="2.5" fill="#000000"/>
<circle cx="113.84" cy="347.26" r="2.5" fill="#000000"/>
<circle cx="118.86" cy="347.50" r="2.5" fill="#000000"/>
<circle cx="123.88" cy="347.67" r="2.5" fill="#000000"/>
<circle cx="128.90" cy="347.84" r="2.5" fill="#000000"/>
<circle cx="133.91" cy="348.01" r="2.5" fill="#000000"/>
<circle cx="138.93" cy="348.18" r="2.5" fill="#000000"/>
<circle cx="143.95" cy="348.35" r="2.5" fill="#000000"/>
<circle cx="148.97" cy="348.52" r="2.5" fill="#000000"/>
<circle cx="153.99" cy="348.69" r="2.5" fill="#000000"/>
<circle cx="159.00" cy="348.86" r="2.5" fill="#000000"/>
<circle cx="164.02" cy="349.02" r="2.5" fill="#000000"/>
<circle cx="169.04" cy="349.19" r="2.5" fill="#000000"/>
<circle cx="174.06" cy="349.26" r="2.5" fill="#000000"/>
<circle cx="179.08" cy="349.33" r="2.5" fill="#000000"/>
<circle cx="184.09" cy="349.40" r="2.5" fill="#000000"/>
<circle cx="189.11" cy="349.47" r="2.5" fill="#000000"/>
<circle cx="194.13" cy="349.53" r="2.5" fill="#000000"/>
<circle cx="199.15" cy="349.47" r="2.5" fill="#000000"/>
<circle cx="204.17" cy="349.40" r="2.5" fill="#000000"/>
<circle cx="209.18" cy="349.33" r="2.5" fill="#000000"/>
<circle cx="214.20" cy="349.26" r="2.5" fill="#000000"/>
<circle cx="219.22" cy="349.19" r="2.5" fill="#000000"/>
<circle cx="224.24" cy="348.99" r="2.5" fill="#000000"/>
<circle cx="229.26" cy="348.79" r="2.5" fill="#000000"/>
<circle cx="234.27" cy="348.58" r="2.5" fill="#000000"/>
<circle cx="239.29" cy="348.38" r="2.5" fill="#000000"/>
<circle cx="244.31" cy="348.18" r="2.5" fill="#000000"/>
<circle cx="249.33" cy="347.91" r="2.5" fill="#000000"/>
<circle cx="254.35" cy="347.64" r="2.5" fill="#000000"/>
<circle cx="259.36" cy="347.36" r="2.5" fill="#000000"/>
<circle cx="264.38" cy="347.09" r="2.5" fill="#000000"/>
<circle cx="269.40" cy="346.82" r="2.5" fill="#000000"/>
<path d="M18.50 205.67L23.52 205.69L28.54 205.71L33.55 205.73L38.57 205.75L43.59 205.77L48.61 205.79L53.63 205.81L58.64 205.83L63.66 205.85L68.68 205.87L73.70 205.89L78.72 205.91L83.73 205.93L88.75 205.95L93.77 205.97L98.79 206.00L103.81 206.02L108.82 206.04L113.84 206.06L118.86 206.08L123.88 206.10L128.90 206.12L133.91 206.14L138.93 206.16L143.95 206.18L148.97 206.23L153.99 206.28L159.00 206.33L164.02 206.38L169.04 206.43L174.06 206.48L179.08 206.53L184.09 206.58L189.11 206.64L194.13 206.69L199.15 206.73L204.17 206.78L209.18 206.83L214.20 206.87L219.22 206.92L224.24 206.96L229.26 207.01L234.27 207.06L239.29 207.10L244.31 207.15L249.33 207.19L254.35 208.55L259.36 208.61L264.38 208.66L269.40 208.72" stroke="#ff0000" stroke-width="1.3" fill="none" stroke-linejoin="round"/>
<path d="M18.50 201.94L21.30 207.54L15.70 207.54ZM23.52 201.96L26.32 207.56L20.72 207.56ZM28.54 201.98L31.34 207.58L25.74 207.58ZM33.55 202.00L36.35 207.60L30.75 207.60ZM38.57 202.02L41.37 207.62L35.77 207.62ZM43.59 202.04L46.39 207.64L40.79 207.64ZM48.61 202.06L51.41 207.66L45.81 207.66ZM53.63 202.08L56.43 207.68L50.83 207.68ZM58.64 202.10L61.44 207.70L55.84 207.70ZM63.66 202.12L66.46 207.72L60.86 207.72ZM68.68 202.14L71.48 207.74L65.88 207.74ZM73.70 202.16L76.50 207.76L70.90 207.76ZM78.72 202.18L81.52 207.78L75.92 207.78ZM83.73 202.20L86.53 207.80L80.93 207.80ZM88.75 202.22L91.55 207.82L85.95 207.82ZM93.77 202.24L96.57 207.84L90.97 207.84ZM98.79 202.26L101.59 207.86L95.99 207.86ZM103.81 202.28L106.61 207.88L101.01 207.88ZM108.82 202.30L111.62 207.90L106.02 207.90ZM113.84 202.32L116.64 207.92L111.04 207.92ZM118.86 202.34L121.66 207.94L116.06 207.94ZM123.88 202.36L126.68 207.96L121.08 207.96ZM128.90 202.38L131.70 207.98L126.10 207.98ZM133.91 202.40L136.71 208.00L131.11 208.00ZM138.93 202.42L141.73 208.02L136.13 208.02ZM143.95 202.44L146.75 208.04L141.15 208.04ZM148.97 202.50L151.77 208.10L146.17 208.10ZM153.99 202.55L156.79 208.15L151.19 208.15ZM159.00 202.60L161.80 208.20L156.20 208.20ZM164.02 202.65L166.82 208.25L161.22 208.25ZM169.04 202.70L171.84 208.30L166.24 208.30ZM174.06 202.75L176.86 208.35L171.26 208.35ZM179.08 202.80L181.88 208.40L176.28 208.40ZM184.09 202.85L186.89 208.45L181.29 208.45ZM189.11 202.90L191.91 208.50L186.31 208.50ZM194.13 202.95L196.93 208.55L191.33 208.55ZM199.15 203.00L201.95 208.60L196.35 208.60ZM204.17 203.05L206.97 208.65L201.37 208.65ZM209.18 203.09L211.98 208.69L206.38 208.69ZM214.20 203.14L217.00 208.74L211.40 208.74ZM219.22 203.18L222.02 208.78L216.42 208.78ZM224.24 203.23L227.04 208.83L221.44 208.83ZM229.26 203.28L232.06 208.88L226.46 208.88ZM234.27 203.32L237.07 208.92L231.47 208.92ZM239.29 203.37L242.09 208.97L236.49 208.97ZM244.31 203.42L247.11 209.02L241.51 209.02ZM249.33 203.46L252.13 209.06L246.53 209.06ZM254.35 204.82L257.15 210.42L251.55 210.42ZM259.36 204.87L262.16 210.47L256.56 210.47ZM264.38 204.93L267.18 210.53L261.58 210.53ZM269.40 204.99L272.20 210.59L266.60 210.59Z" fill="#ff0000"/>
<path d="M18.50 348.86L23.52 348.96L28.54 349.06L33.55 349.16L38.57 349.26L43.59 349.36L48.61 349.47L53.63 349.57L58.64 349.67L63.66 349.77L68.68 349.87L73.70 350.01L78.72 350.14L83.73 350.28L88.75 350.41L93.77 350.55L98.79 350.69L103.81 350.82L108.82 350.96L113.84 351.09L118.86 351.23L123.88 351.33L128.90 351.43L133.91 351.53L138.93 351.63L143.95 351.74L148.97 351.77L153.99 351.80L159.00 351.84L164.02 351.87L169.04 351.91L174.06 351.87L179.08 351.84L184.09 351.80L189.11 351.77L194.13 351.74L199.15 351.67L204.17 351.60L209.18 351.53L214.20 351.46L219.22 351.40L224.24 351.33L229.26 351.26L234.27 351.19L239.29 351.13L244.31 351.06L249.33 350.96L254.35 350.85L259.36 350.75L264.38 350.65L269.40 350.55" stroke="#ff0000" stroke-width="1.3" fill="none" stroke-linejoin="round"/>
<circle cx="18.50" cy="348.86" r="2.5" fill="#ff0000"/>
<circle cx="23.52" cy="348.96" r="2.5" fill="#ff0000"/>
<circle cx="28.54" cy="349.06" r="2.5" fill="#ff0000"/>
<circle cx="33.55" cy="349.16" r="2.5" fill="#ff0000"/>
<circle cx="38.57" cy="349.26" r="2.5" fill="#ff0000"/>
<circle cx="43.59" cy="349.36" r="2.5" fill="#ff0000"/>
<circle cx="48.61" cy="349.47" r="2.5" fill="#ff0000"/>
<circle cx="53.63" cy="349.57" r="2.5" fill="#ff0000"/>
<circle cx="58.64" cy="349.67" r="2.5" fill="#ff0000"/>
<circle cx="63.66" cy="349.77" r="2.5" fill="#ff0000"/>
<circle cx="68.68" cy="349.87" r="2.5" fill="#ff0000"/>
<circle cx="73.70" cy="350.01" r="2.5" fill="#ff0000"/>
<circle cx="78.72" cy="350.14" r="2.5" fill="#ff0000"/>
<circle cx="83.73" cy="350.28" r="2.5" fill="#ff0000"/>
<circle cx="88.75" cy="350.41" r="2.5" fill="#ff0000"/>
<circle cx="93.77" cy="350.55" r="2.5" fill="#ff0000"/>
<circle cx="98.79" cy="350.69" r="2.5" fill="#ff0000"/>
<circle cx="103.81" cy="350.82" r="2.5" fill="#ff0000"/>
<circle cx="108.82" cy="350.96" r="2.5" fill="#ff0000"/>
<circle cx="113.84" cy="351.09" r="2.5" fill="#ff0000"/>
<circle cx="118.86" cy="351.23" r="2.5" fill="#ff0000"/>
<circle cx="123.88" cy="351.33" r="2.5" fill="#ff0000"/>
<circle cx="128.90" cy="351.43" r="2.5" fill="#ff0000"/>
<circle cx="133.91" cy="351.53" r="2.5" fill="#ff0000"/>
<circle cx="138.93" cy="351.63" r="2.5" fill="#ff0000"/>
<circle cx="143.95" cy="351.74" r="2.5" fill="#ff0000"/>
<circle cx="148.97" cy="351.77" r="2.5" fill="#ff0000"/>
<circle cx="153.99" cy="351.80" r="2.5" fill="#ff0000"/>
<circle cx="159.00" cy="351.84" r="2.5" fill="#ff0000"/>
<circle cx="164.02" cy="351.87" r="2.5" fill="#ff0000"/>
<circle cx="169.04" cy="351.91" r="2.5" fill="#ff0000"/>
<circle cx="174.06" cy="351.87" r="2.5" fill="#ff0000"/>
<circle cx="179.08" cy="351.84" r="2.5" fill="#ff0000"/>
<circle cx="184.09" cy="351.80" r="2.5" fill="#ff0000"/>
<circle cx="189.11" cy="351.77" r="2.5" fill="#ff0000"/>
<circle cx="194.13" cy="351.74" r="2.5" fill="#ff0000"/>
<circle cx="199.15" cy="351.67" r="2.5" fill="#ff0000"/>
<circle cx="204.17" cy="351.60" r="2.5" fill="#ff0000"/>
<circle cx="209.18" cy="351.53" r="2.5" fill="#ff0000"/>
<circle cx="214.20" cy="351.46" r="2.5" fill="#ff0000"/>
<circle cx="219.22" cy="351.40" r="2.5" fill="#ff0000"/>
<circle cx="224.24" cy="351.33" r="2.5" fill="#ff0000"/>
<circle cx="229.26" cy="351.26" r="2.5" fill="#ff0000"/>
<circle cx="234.27" cy="351.19" r="2.5" fill="#ff0000"/>
<circle cx="239.29" cy="351.13" r="2.5" fill="#ff0000"/>
<circle cx="244.31" cy="351.06" r="2.5" fill="#ff0000"/>
<circle cx="249.33" cy="350.96" r="2.5" fill="#ff0000"/>
<circle cx="254.35" cy="350.85" r="2.5" fill="#ff0000"/>
<circle cx="259.36" cy="350.75" r="2.5" fill="#ff0000"/>
<circle cx="264.38" cy="350.65" r="2.5" fill="#ff0000"/>
<circle cx="269.40" cy="350.55" r="2.5" fill="#ff0000"/>
</g>
<rect x="18.5" y="193.3" width="250.90" height="169.45" fill="none" stroke="#333333" stroke-width="1.2"/>
<path d="M31.05 362.75v-1.5M31.05 193.30v1.5M43.59 362.75v-3.4M43.59 193.30v3.4M56.13 362.75v-1.5M56.13 193.30v1.5M68.68 362.75v-3.4M68.68 193.30v3.4M81.22 362.75v-1.5M81.22 193.30v1.5M93.77 362.75v-3.4M93.77 193.30v3.4M106.31 362.75v-1.5M106.31 193.30v1.5M118.86 362.75v-3.4M118.86 193.30v3.4M131.40 362.75v-1.5M131.40 193.30v1.5M143.95 362.75v-3.4M143.95 193.30v3.4M156.49 362.75v-1.5M156.49 193.30v1.5M169.04 362.75v-3.4M169.04 193.30v3.4M181.58 362.75v-1.5M181.58 193.30v1.5M194.13 362.75v-3.4M194.13 193.30v3.4M206.68 362.75v-1.5M206.68 193.30v1.5M219.22 362.75v-3.4M219.22 193.30v3.4M231.76 362.75v-1.5M231.76 193.30v1.5M244.31 362.75v-3.4M244.31 193.30v3.4M256.85 362.75v-1.5M256.85 193.30v1.5M18.50 345.81h1.5M269.40 345.81h-1.5M18.50 328.86h3.4M269.40 328.86h-3.4M18.50 311.92h1.5M269.40 311.92h-1.5M18.50 294.97h3.4M269.40 294.97h-3.4M18.50 278.02h1.5M269.40 278.02h-1.5M18.50 261.08h3.4M269.40 261.08h-3.4M18.50 244.14h1.5M269.40 244.14h-1.5M18.50 227.19h3.4M269.40 227.19h-3.4M18.50 210.25h1.5M269.40 210.25h-1.5" stroke="#333333" stroke-width="1.1" fill="none"/>
<text x="18.80" y="373.75" text-anchor="middle" class="tk">0</text>
<text x="43.89" y="373.75" text-anchor="middle" class="tk">10</text>
<text x="68.98" y="373.75" text-anchor="middle" class="tk">20</text>
<text x="94.07" y="373.75" text-anchor="middle" class="tk">30</text>
<text x="119.16" y="373.75" text-anchor="middle" class="tk">40</text>
<text x="144.25" y="373.75" text-anchor="middle" class="tk">50</text>
<text x="169.34" y="373.75" text-anchor="middle" class="tk">60</text>
<text x="194.43" y="373.75" text-anchor="middle" class="tk">70</text>
<text x="219.52" y="373.75" text-anchor="middle" class="tk">80</text>
<text x="244.61" y="373.75" text-anchor="middle" class="tk">90</text>
<text x="269.70" y="373.75" text-anchor="middle" class="tk" textLength="15.2" lengthAdjust="spacingAndGlyphs">100</text>
<text x="15.00" y="365.35" text-anchor="end" class="tk">0.0</text>
<text x="15.00" y="331.46" text-anchor="end" class="tk">0.2</text>
<text x="15.00" y="297.57" text-anchor="end" class="tk">0.4</text>
<text x="15.00" y="263.68" text-anchor="end" class="tk">0.6</text>
<text x="15.00" y="229.79" text-anchor="end" class="tk">0.8</text>
<text x="15.00" y="195.90" text-anchor="end" class="tk">1.0</text>
<rect x="82.0" y="245.6" width="128.3" height="70.4" fill="#fff" stroke="#c4c4c4" stroke-width="0.8"/>
<text x="84.00" y="256.70" class="tt" textLength="124.6" lengthAdjust="spacingAndGlyphs">Training Results for noise-75</text>
<path d="M83.60 267.00H109.30" stroke="#000000" stroke-width="1.4"/>
<path d="M96.45 263.80L99.25 268.60L93.65 268.60Z" fill="#000000"/>
<text x="109.00" y="271.20" class="lg" textLength="71.6" lengthAdjust="spacingAndGlyphs">( SMELoss-SSIM)</text>
<path d="M83.60 280.95H109.30" stroke="#000000" stroke-width="1.4"/>
<circle cx="96.45" cy="280.95" r="2.35" fill="#000000"/>
<text x="109.00" y="285.15" class="lg" textLength="76.2" lengthAdjust="spacingAndGlyphs">( SMELoss-RMSE)</text>
<path d="M83.60 294.90H109.30" stroke="#ff0000" stroke-width="1.4"/>
<path d="M96.45 291.70L99.25 296.50L93.65 296.50Z" fill="#ff0000"/>
<text x="110.50" y="299.10" class="lg" textLength="86.6" lengthAdjust="spacingAndGlyphs">SmoothL1Loss-SSIM</text>
<path d="M83.60 308.85H109.30" stroke="#ff0000" stroke-width="1.4"/>
<circle cx="96.45" cy="308.85" r="2.35" fill="#ff0000"/>
<text x="110.50" y="313.05" class="lg" textLength="91.0" lengthAdjust="spacingAndGlyphs">SmoothL1Loss-RMSE</text>
<path d="M313.78 193.30V362.75M338.86 193.30V362.75M363.94 193.30V362.75M389.02 193.30V362.75M414.10 193.30V362.75M439.18 193.30V362.75M464.26 193.30V362.75M489.34 193.30V362.75M514.42 193.30V362.75M288.70 328.86H539.50M288.70 294.97H539.50M288.70 261.08H539.50M288.70 227.19H539.50" stroke="#ededed" stroke-width="0.6" fill="none"/>
<clipPath id="cBR"><rect x="288.7" y="193.3" width="250.80" height="169.45"/></clipPath>
<g clip-path="url(#cBR)">
<path d="M288.70 219.90L293.72 219.90L298.73 219.90L303.75 219.90L308.76 219.90L313.78 219.73L318.80 219.56L323.81 219.40L328.83 219.00L333.84 218.60L338.86 218.21L343.88 217.94L348.89 217.67L353.91 217.40L358.92 217.12L363.94 216.85L368.96 216.55L373.97 216.24L378.99 215.94L384.00 215.63L389.02 215.33L394.04 213.30L399.05 213.13L404.07 212.96L409.08 211.09L414.10 210.41L419.12 209.74L424.13 208.72L429.15 208.69L434.16 208.66L439.18 208.64L444.20 208.61L449.21 208.58L454.23 208.55L459.24 208.65L464.26 208.74L469.28 208.84L474.29 208.94L479.31 209.03L484.32 209.13L489.34 209.23L494.36 209.36L499.37 209.50L504.39 209.63L509.40 209.77L514.42 209.91L519.44 210.08L524.45 210.25L529.47 210.41L534.48 210.58L539.50 210.75" stroke="#000000" stroke-width="1.3" fill="none" stroke-linejoin="round"/>
<path d="M288.70 216.17L291.50 221.77L285.90 221.77ZM293.72 216.17L296.52 221.77L290.92 221.77ZM298.73 216.17L301.53 221.77L295.93 221.77ZM303.75 216.17L306.55 221.77L300.95 221.77ZM308.76 216.17L311.56 221.77L305.96 221.77ZM313.78 216.00L316.58 221.60L310.98 221.60ZM318.80 215.83L321.60 221.43L316.00 221.43ZM323.81 215.66L326.61 221.26L321.01 221.26ZM328.83 215.27L331.63 220.87L326.03 220.87ZM333.84 214.87L336.64 220.47L331.04 220.47ZM338.86 214.48L341.66 220.08L336.06 220.08ZM343.88 214.20L346.68 219.80L341.08 219.80ZM348.89 213.93L351.69 219.53L346.09 219.53ZM353.91 213.66L356.71 219.26L351.11 219.26ZM358.92 213.39L361.72 218.99L356.12 218.99ZM363.94 213.12L366.74 218.72L361.14 218.72ZM368.96 212.82L371.76 218.42L366.16 218.42ZM373.97 212.51L376.77 218.11L371.17 218.11ZM378.99 212.21L381.79 217.81L376.19 217.81ZM384.00 211.90L386.80 217.50L381.20 217.50ZM389.02 211.60L391.82 217.20L386.22 217.20ZM394.04 209.56L396.84 215.16L391.24 215.16ZM399.05 209.39L401.85 214.99L396.25 214.99ZM404.07 209.22L406.87 214.82L401.27 214.82ZM409.08 207.36L411.88 212.96L406.28 212.96ZM414.10 206.68L416.90 212.28L411.30 212.28ZM419.12 206.00L421.92 211.60L416.32 211.60ZM424.13 204.99L426.93 210.59L421.33 210.59ZM429.15 204.96L431.95 210.56L426.35 210.56ZM434.16 204.93L436.96 210.53L431.36 210.53ZM439.18 204.90L441.98 210.50L436.38 210.50ZM444.20 204.87L447.00 210.47L441.40 210.47ZM449.21 204.85L452.01 210.45L446.41 210.45ZM454.23 204.82L457.03 210.42L451.43 210.42ZM459.24 204.91L462.04 210.51L456.44 210.51ZM464.26 205.01L467.06 210.61L461.46 210.61ZM469.28 205.11L472.08 210.71L466.48 210.71ZM474.29 205.20L477.09 210.80L471.49 210.80ZM479.31 205.30L482.11 210.90L476.51 210.90ZM484.32 205.40L487.12 211.00L481.52 211.00ZM489.34 205.49L492.14 211.09L486.54 211.09ZM494.36 205.63L497.16 211.23L491.56 211.23ZM499.37 205.77L502.17 211.37L496.57 211.37ZM504.39 205.90L507.19 211.50L501.59 211.50ZM509.40 206.04L512.20 211.64L506.60 211.64ZM514.42 206.17L517.22 211.77L511.62 211.77ZM519.44 206.34L522.24 211.94L516.64 211.94ZM524.45 206.51L527.25 212.11L521.65 212.11ZM529.47 206.68L532.27 212.28L526.67 212.28ZM534.48 206.85L537.28 212.45L531.68 212.45ZM539.50 207.02L542.30 212.62L536.70 212.62Z" fill="#000000"/>
<path d="M288.70 346.14L293.72 346.35L298.73 346.55L303.75 346.75L308.76 346.96L313.78 347.16L318.80 347.36L323.81 347.57L328.83 347.77L333.84 347.97L338.86 348.18L343.88 348.45L348.89 348.72L353.91 348.99L358.92 349.26L363.94 349.53L368.96 349.87L373.97 350.21L378.99 350.55L384.00 350.89L389.02 351.23L394.04 351.46L399.05 351.70L404.07 351.94L409.08 352.18L414.10 352.41L419.12 352.45L424.13 352.48L429.15 352.52L434.16 352.55L439.18 352.58L444.20 352.52L449.21 352.45L454.23 352.38L459.24 352.31L464.26 352.24L469.28 352.11L474.29 351.97L479.31 351.84L484.32 351.70L489.34 351.57L494.36 351.43L499.37 351.30L504.39 351.16L509.40 351.02L514.42 350.89L519.44 350.75L524.45 350.62L529.47 350.48L534.48 350.35L539.50 350.21" stroke="#000000" stroke-width="1.3" fill="none" stroke-linejoin="round"/>
<circle cx="288.70" cy="346.14" r="2.5" fill="#000000"/>
<circle cx="293.72" cy="346.35" r="2.5" fill="#000000"/>
<circle cx="298.73" cy="346.55" r="2.5" fill="#000000"/>
<circle cx="303.75" cy="346.75" r="2.5" fill="#000000"/>
<circle cx="308.76" cy="346.96" r="2.5" fill="#000000"/>
<circle cx="313.78" cy="347.16" r="2.5" fill="#000000"/>
<circle cx="318.80" cy="347.36" r="2.5" fill="#000000"/>
<circle cx="323.81" cy="347.57" r="2.5" fill="#000000"/>
<circle cx="328.83" cy="347.77" r="2.5" fill="#000000"/>
<circle cx="333.84" cy="347.97" r="2.5" fill="#000000"/>
<circle cx="338.86" cy="348.18" r="2.5" fill="#000000"/>
<circle cx="343.88" cy="348.45" r="2.5" fill="#000000"/>
<circle cx="348.89" cy="348.72" r="2.5" fill="#000000"/>
<circle cx="353.91" cy="348.99" r="2.5" fill="#000000"/>
<circle cx="358.92" cy="349.26" r="2.5" fill="#000000"/>
<circle cx="363.94" cy="349.53" r="2.5" fill="#000000"/>
<circle cx="368.96" cy="349.87" r="2.5" fill="#000000"/>
<circle cx="373.97" cy="350.21" r="2.5" fill="#000000"/>
<circle cx="378.99" cy="350.55" r="2.5" fill="#000000"/>
<circle cx="384.00" cy="350.89" r="2.5" fill="#000000"/>
<circle cx="389.02" cy="351.23" r="2.5" fill="#000000"/>
<circle cx="394.04" cy="351.46" r="2.5" fill="#000000"/>
<circle cx="399.05" cy="351.70" r="2.5" fill="#000000"/>
<circle cx="404.07" cy="351.94" r="2.5" fill="#000000"/>
<circle cx="409.08" cy="352.18" r="2.5" fill="#000000"/>
<circle cx="414.10" cy="352.41" r="2.5" fill="#000000"/>
<circle cx="419.12" cy="352.45" r="2.5" fill="#000000"/>
<circle cx="424.13" cy="352.48" r="2.5" fill="#000000"/>
<circle cx="429.15" cy="352.52" r="2.5" fill="#000000"/>
<circle cx="434.16" cy="352.55" r="2.5" fill="#000000"/>
<circle cx="439.18" cy="352.58" r="2.5" fill="#000000"/>
<circle cx="444.20" cy="352.52" r="2.5" fill="#000000"/>
<circle cx="449.21" cy="352.45" r="2.5" fill="#000000"/>
<circle cx="454.23" cy="352.38" r="2.5" fill="#000000"/>
<circle cx="459.24" cy="352.31" r="2.5" fill="#000000"/>
<circle cx="464.26" cy="352.24" r="2.5" fill="#000000"/>
<circle cx="469.28" cy="352.11" r="2.5" fill="#000000"/>
<circle cx="474.29" cy="351.97" r="2.5" fill="#000000"/>
<circle cx="479.31" cy="351.84" r="2.5" fill="#000000"/>
<circle cx="484.32" cy="351.70" r="2.5" fill="#000000"/>
<circle cx="489.34" cy="351.57" r="2.5" fill="#000000"/>
<circle cx="494.36" cy="351.43" r="2.5" fill="#000000"/>
<circle cx="499.37" cy="351.30" r="2.5" fill="#000000"/>
<circle cx="504.39" cy="351.16" r="2.5" fill="#000000"/>
<circle cx="509.40" cy="351.02" r="2.5" fill="#000000"/>
<circle cx="514.42" cy="350.89" r="2.5" fill="#000000"/>
<circle cx="519.44" cy="350.75" r="2.5" fill="#000000"/>
<circle cx="524.45" cy="350.62" r="2.5" fill="#000000"/>
<circle cx="529.47" cy="350.48" r="2.5" fill="#000000"/>
<circle cx="534.48" cy="350.35" r="2.5" fill="#000000"/>
<circle cx="539.50" cy="350.21" r="2.5" fill="#000000"/>
<path d="M288.70 216.68L293.72 216.68L298.73 216.68L303.75 216.68L308.76 216.68L313.78 216.46L318.80 216.23L323.81 216.01L328.83 214.65L333.84 213.30L338.86 211.77L343.88 211.26L348.89 211.02L353.91 210.79L358.92 210.55L363.94 210.31L368.96 210.08L373.97 210.04L378.99 210.01L384.00 209.97L389.02 209.94L394.04 209.91L399.05 209.97L404.07 210.03L409.08 210.09L414.10 210.15L419.12 210.21L424.13 210.28L429.15 210.34L434.16 210.40L439.18 210.46L444.20 210.52L449.21 210.58L454.23 211.43L459.24 211.48L464.26 211.53L469.28 211.58L474.29 211.62L479.31 211.67L484.32 211.72L489.34 211.77L494.36 212.96L499.37 212.99L504.39 213.03L509.40 213.07L514.42 213.11L519.44 213.14L524.45 213.18L529.47 213.22L534.48 213.26L539.50 213.30" stroke="#ff0000" stroke-width="1.3" fill="none" stroke-linejoin="round"/>
<path d="M288.70 212.95L291.50 218.55L285.90 218.55ZM293.72 212.95L296.52 218.55L290.92 218.55ZM298.73 212.95L301.53 218.55L295.93 218.55ZM303.75 212.95L306.55 218.55L300.95 218.55ZM308.76 212.95L311.56 218.55L305.96 218.55ZM313.78 212.72L316.58 218.32L310.98 218.32ZM318.80 212.50L321.60 218.10L316.00 218.10ZM323.81 212.27L326.61 217.87L321.01 217.87ZM328.83 210.92L331.63 216.52L326.03 216.52ZM333.84 209.56L336.64 215.16L331.04 215.16ZM338.86 208.04L341.66 213.64L336.06 213.64ZM343.88 207.53L346.68 213.13L341.08 213.13ZM348.89 207.29L351.69 212.89L346.09 212.89ZM353.91 207.05L356.71 212.65L351.11 212.65ZM358.92 206.82L361.72 212.42L356.12 212.42ZM363.94 206.58L366.74 212.18L361.14 212.18ZM368.96 206.34L371.76 211.94L366.16 211.94ZM373.97 206.31L376.77 211.91L371.17 211.91ZM378.99 206.27L381.79 211.87L376.19 211.87ZM384.00 206.24L386.80 211.84L381.20 211.84ZM389.02 206.21L391.82 211.81L386.22 211.81ZM394.04 206.17L396.84 211.77L391.24 211.77ZM399.05 206.23L401.85 211.83L396.25 211.83ZM404.07 206.30L406.87 211.90L401.27 211.90ZM409.08 206.36L411.88 211.96L406.28 211.96ZM414.10 206.42L416.90 212.02L411.30 212.02ZM419.12 206.48L421.92 212.08L416.32 212.08ZM424.13 206.54L426.93 212.14L421.33 212.14ZM429.15 206.60L431.95 212.20L426.35 212.20ZM434.16 206.67L436.96 212.27L431.36 212.27ZM439.18 206.73L441.98 212.33L436.38 212.33ZM444.20 206.79L447.00 212.39L441.40 212.39ZM449.21 206.85L452.01 212.45L446.41 212.45ZM454.23 207.70L457.03 213.30L451.43 213.30ZM459.24 207.75L462.04 213.35L456.44 213.35ZM464.26 207.79L467.06 213.39L461.46 213.39ZM469.28 207.84L472.08 213.44L466.48 213.44ZM474.29 207.89L477.09 213.49L471.49 213.49ZM479.31 207.94L482.11 213.54L476.51 213.54ZM484.32 207.99L487.12 213.59L481.52 213.59ZM489.34 208.04L492.14 213.64L486.54 213.64ZM494.36 209.22L497.16 214.82L491.56 214.82ZM499.37 209.26L502.17 214.86L496.57 214.86ZM504.39 209.30L507.19 214.90L501.59 214.90ZM509.40 209.34L512.20 214.94L506.60 214.94ZM514.42 209.37L517.22 214.97L511.62 214.97ZM519.44 209.41L522.24 215.01L516.64 215.01ZM524.45 209.45L527.25 215.05L521.65 215.05ZM529.47 209.49L532.27 215.09L526.67 215.09ZM534.48 209.52L537.28 215.12L531.68 215.12ZM539.50 209.56L542.30 215.16L536.70 215.16Z" fill="#ff0000"/>
<path d="M288.70 349.19L293.72 349.30L298.73 349.40L303.75 349.50L308.76 349.60L313.78 349.70L318.80 349.84L323.81 349.97L328.83 350.11L333.84 350.24L338.86 350.38L343.88 350.52L348.89 350.65L353.91 350.79L358.92 350.92L363.94 351.06L368.96 351.23L373.97 351.40L378.99 351.57L384.00 351.74L389.02 351.91L394.04 352.04L399.05 352.18L404.07 352.31L409.08 352.45L414.10 352.58L419.12 352.65L424.13 352.72L429.15 352.79L434.16 352.85L439.18 352.92L444.20 352.89L449.21 352.85L454.23 352.82L459.24 352.79L464.26 352.75L469.28 352.68L474.29 352.62L479.31 352.55L484.32 352.48L489.34 352.41L494.36 352.35L499.37 352.28L504.39 352.21L509.40 352.14L514.42 352.07L519.44 351.97L524.45 351.87L529.47 351.77L534.48 351.67L539.50 351.57" stroke="#ff0000" stroke-width="1.3" fill="none" stroke-linejoin="round"/>
<circle cx="288.70" cy="349.19" r="2.5" fill="#ff0000"/>
<circle cx="293.72" cy="349.30" r="2.5" fill="#ff0000"/>
<circle cx="298.73" cy="349.40" r="2.5" fill="#ff0000"/>
<circle cx="303.75" cy="349.50" r="2.5" fill="#ff0000"/>
<circle cx="308.76" cy="349.60" r="2.5" fill="#ff0000"/>
<circle cx="313.78" cy="349.70" r="2.5" fill="#ff0000"/>
<circle cx="318.80" cy="349.84" r="2.5" fill="#ff0000"/>
<circle cx="323.81" cy="349.97" r="2.5" fill="#ff0000"/>
<circle cx="328.83" cy="350.11" r="2.5" fill="#ff0000"/>
<circle cx="333.84" cy="350.24" r="2.5" fill="#ff0000"/>
<circle cx="338.86" cy="350.38" r="2.5" fill="#ff0000"/>
<circle cx="343.88" cy="350.52" r="2.5" fill="#ff0000"/>
<circle cx="348.89" cy="350.65" r="2.5" fill="#ff0000"/>
<circle cx="353.91" cy="350.79" r="2.5" fill="#ff0000"/>
<circle cx="358.92" cy="350.92" r="2.5" fill="#ff0000"/>
<circle cx="363.94" cy="351.06" r="2.5" fill="#ff0000"/>
<circle cx="368.96" cy="351.23" r="2.5" fill="#ff0000"/>
<circle cx="373.97" cy="351.40" r="2.5" fill="#ff0000"/>
<circle cx="378.99" cy="351.57" r="2.5" fill="#ff0000"/>
<circle cx="384.00" cy="351.74" r="2.5" fill="#ff0000"/>
<circle cx="389.02" cy="351.91" r="2.5" fill="#ff0000"/>
<circle cx="394.04" cy="352.04" r="2.5" fill="#ff0000"/>
<circle cx="399.05" cy="352.18" r="2.5" fill="#ff0000"/>
<circle cx="404.07" cy="352.31" r="2.5" fill="#ff0000"/>
<circle cx="409.08" cy="352.45" r="2.5" fill="#ff0000"/>
<circle cx="414.10" cy="352.58" r="2.5" fill="#ff0000"/>
<circle cx="419.12" cy="352.65" r="2.5" fill="#ff0000"/>
<circle cx="424.13" cy="352.72" r="2.5" fill="#ff0000"/>
<circle cx="429.15" cy="352.79" r="2.5" fill="#ff0000"/>
<circle cx="434.16" cy="352.85" r="2.5" fill="#ff0000"/>
<circle cx="439.18" cy="352.92" r="2.5" fill="#ff0000"/>
<circle cx="444.20" cy="352.89" r="2.5" fill="#ff0000"/>
<circle cx="449.21" cy="352.85" r="2.5" fill="#ff0000"/>
<circle cx="454.23" cy="352.82" r="2.5" fill="#ff0000"/>
<circle cx="459.24" cy="352.79" r="2.5" fill="#ff0000"/>
<circle cx="464.26" cy="352.75" r="2.5" fill="#ff0000"/>
<circle cx="469.28" cy="352.68" r="2.5" fill="#ff0000"/>
<circle cx="474.29" cy="352.62" r="2.5" fill="#ff0000"/>
<circle cx="479.31" cy="352.55" r="2.5" fill="#ff0000"/>
<circle cx="484.32" cy="352.48" r="2.5" fill="#ff0000"/>
<circle cx="489.34" cy="352.41" r="2.5" fill="#ff0000"/>
<circle cx="494.36" cy="352.35" r="2.5" fill="#ff0000"/>
<circle cx="499.37" cy="352.28" r="2.5" fill="#ff0000"/>
<circle cx="504.39" cy="352.21" r="2.5" fill="#ff0000"/>
<circle cx="509.40" cy="352.14" r="2.5" fill="#ff0000"/>
<circle cx="514.42" cy="352.07" r="2.5" fill="#ff0000"/>
<circle cx="519.44" cy="351.97" r="2.5" fill="#ff0000"/>
<circle cx="524.45" cy="351.87" r="2.5" fill="#ff0000"/>
<circle cx="529.47" cy="351.77" r="2.5" fill="#ff0000"/>
<circle cx="534.48" cy="351.67" r="2.5" fill="#ff0000"/>
<circle cx="539.50" cy="351.57" r="2.5" fill="#ff0000"/>
</g>
<rect x="288.7" y="193.3" width="250.80" height="169.45" fill="none" stroke="#333333" stroke-width="1.2"/>
<path d="M301.24 362.75v-1.5M301.24 193.30v1.5M313.78 362.75v-3.4M313.78 193.30v3.4M326.32 362.75v-1.5M326.32 193.30v1.5M338.86 362.75v-3.4M338.86 193.30v3.4M351.40 362.75v-1.5M351.40 193.30v1.5M363.94 362.75v-3.4M363.94 193.30v3.4M376.48 362.75v-1.5M376.48 193.30v1.5M389.02 362.75v-3.4M389.02 193.30v3.4M401.56 362.75v-1.5M401.56 193.30v1.5M414.10 362.75v-3.4M414.10 193.30v3.4M426.64 362.75v-1.5M426.64 193.30v1.5M439.18 362.75v-3.4M439.18 193.30v3.4M451.72 362.75v-1.5M451.72 193.30v1.5M464.26 362.75v-3.4M464.26 193.30v3.4M476.80 362.75v-1.5M476.80 193.30v1.5M489.34 362.75v-3.4M489.34 193.30v3.4M501.88 362.75v-1.5M501.88 193.30v1.5M514.42 362.75v-3.4M514.42 193.30v3.4M526.96 362.75v-1.5M526.96 193.30v1.5M288.70 345.81h1.5M539.50 345.81h-1.5M288.70 328.86h3.4M539.50 328.86h-3.4M288.70 311.92h1.5M539.50 311.92h-1.5M288.70 294.97h3.4M539.50 294.97h-3.4M288.70 278.02h1.5M539.50 278.02h-1.5M288.70 261.08h3.4M539.50 261.08h-3.4M288.70 244.14h1.5M539.50 244.14h-1.5M288.70 227.19h3.4M539.50 227.19h-3.4M288.70 210.25h1.5M539.50 210.25h-1.5" stroke="#333333" stroke-width="1.1" fill="none"/>
<text x="289.00" y="373.75" text-anchor="middle" class="tk">0</text>
<text x="314.08" y="373.75" text-anchor="middle" class="tk">10</text>
<text x="339.16" y="373.75" text-anchor="middle" class="tk">20</text>
<text x="364.24" y="373.75" text-anchor="middle" class="tk">30</text>
<text x="389.32" y="373.75" text-anchor="middle" class="tk">40</text>
<text x="414.40" y="373.75" text-anchor="middle" class="tk">50</text>
<text x="439.48" y="373.75" text-anchor="middle" class="tk">60</text>
<text x="464.56" y="373.75" text-anchor="middle" class="tk">70</text>
<text x="489.64" y="373.75" text-anchor="middle" class="tk">80</text>
<text x="514.72" y="373.75" text-anchor="middle" class="tk">90</text>
<text x="539.80" y="373.75" text-anchor="middle" class="tk" textLength="15.2" lengthAdjust="spacingAndGlyphs">100</text>
<text x="285.20" y="365.35" text-anchor="end" class="tk">0.0</text>
<text x="285.20" y="331.46" text-anchor="end" class="tk">0.2</text>
<text x="285.20" y="297.57" text-anchor="end" class="tk">0.4</text>
<text x="285.20" y="263.68" text-anchor="end" class="tk">0.6</text>
<text x="285.20" y="229.79" text-anchor="end" class="tk">0.8</text>
<text x="285.20" y="195.90" text-anchor="end" class="tk">1.0</text>
<rect x="352.4" y="245.4" width="132.5" height="70.2" fill="#fff" stroke="#c4c4c4" stroke-width="0.8"/>
<text x="354.40" y="256.60" class="tt" textLength="129.2" lengthAdjust="spacingAndGlyphs">Training Results for noise-100</text>
<path d="M354.10 267.10H379.30" stroke="#000000" stroke-width="1.4"/>
<path d="M366.70 263.90L369.50 268.70L363.90 268.70Z" fill="#000000"/>
<text x="379.80" y="271.30" class="lg" textLength="71.3" lengthAdjust="spacingAndGlyphs">( SMELoss-SSIM)</text>
<path d="M354.10 281.05H379.30" stroke="#000000" stroke-width="1.4"/>
<circle cx="366.70" cy="281.05" r="2.35" fill="#000000"/>
<text x="379.80" y="285.25" class="lg" textLength="75.4" lengthAdjust="spacingAndGlyphs">( SMELoss-RMSE)</text>
<path d="M354.10 295.00H379.30" stroke="#ff0000" stroke-width="1.4"/>
<path d="M366.70 291.80L369.50 296.60L363.90 296.60Z" fill="#ff0000"/>
<text x="381.50" y="299.20" class="lg" textLength="85.8" lengthAdjust="spacingAndGlyphs">SmoothL1Loss-SSIM</text>
<path d="M354.10 308.95H379.30" stroke="#ff0000" stroke-width="1.4"/>
<circle cx="366.70" cy="308.95" r="2.35" fill="#ff0000"/>
<text x="381.50" y="313.15" class="lg" textLength="89.8" lengthAdjust="spacingAndGlyphs">SmoothL1Loss-RMSE</text>
<text x="144.6" y="384.8" text-anchor="middle" class="xl" textLength="50.6" lengthAdjust="spacingAndGlyphs">Noise Level</text>
<text x="415.8" y="384.8" text-anchor="middle" class="xl" textLength="50.6" lengthAdjust="spacingAndGlyphs">Noise Level</text>
</svg>
</body></html>
